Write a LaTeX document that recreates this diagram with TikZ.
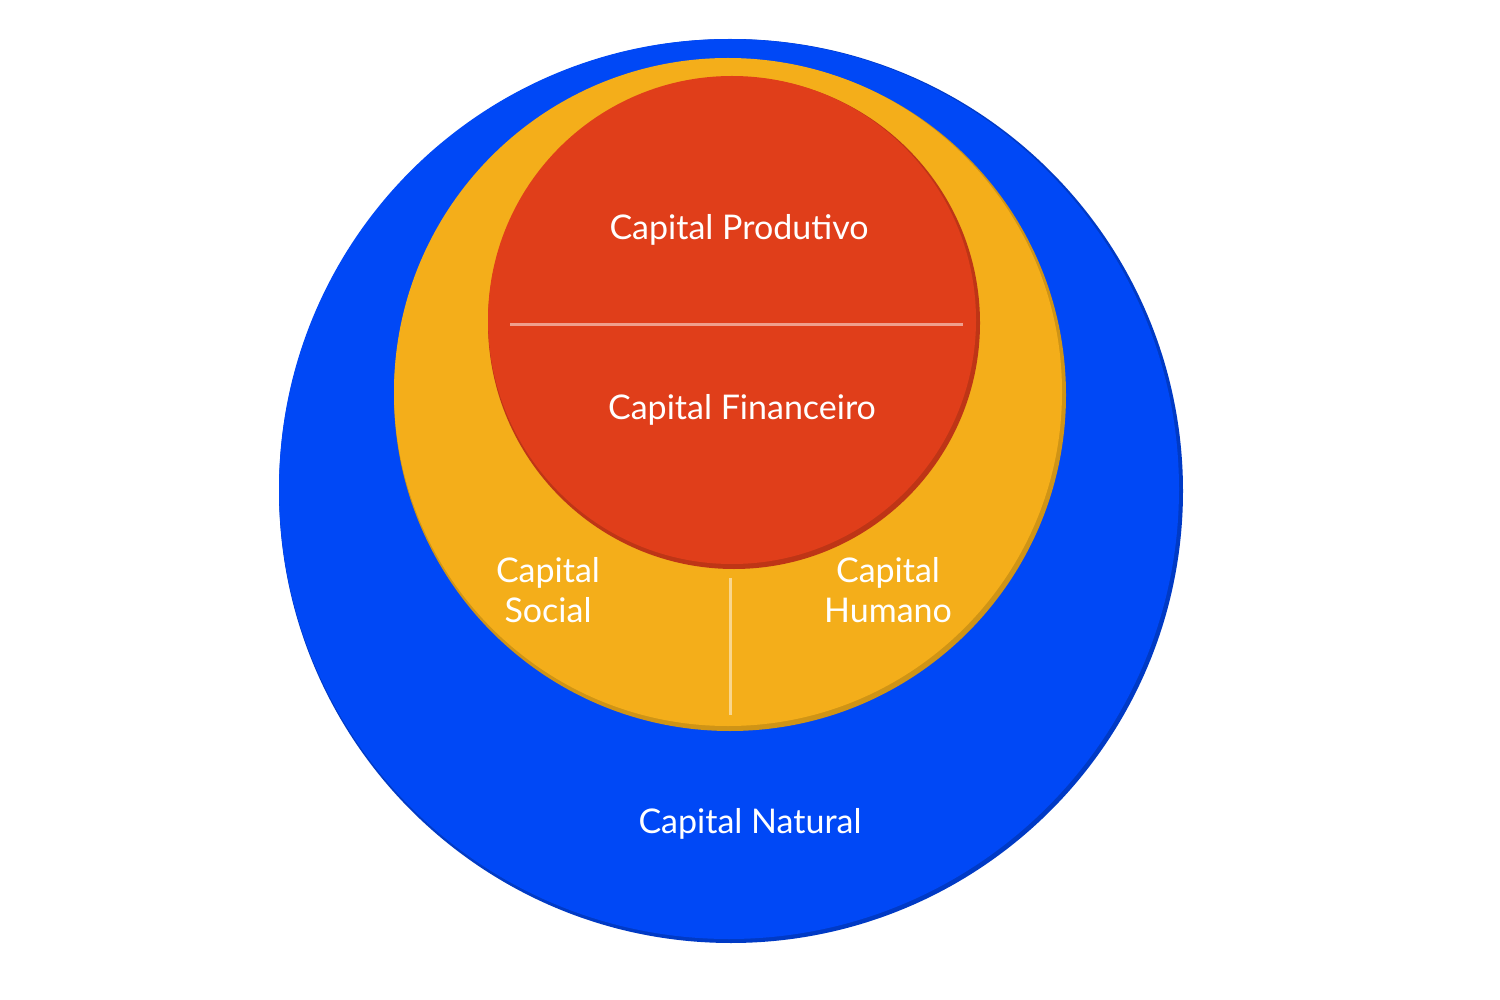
\documentclass[tikz,border=0pt]{standalone}
\usepackage{fontspec}
\setmainfont{Lato}
\definecolor{cblue}{HTML}{0048F6}
\definecolor{cyel}{HTML}{F4AE1A}
\definecolor{cred}{HTML}{E03E1A}
\begin{document}
\begin{tikzpicture}[x=0.5pt,y=-0.5pt,
  lbl/.style={text=white,font=\fontsize{17}{20}\selectfont,align=center}]
\useasboundingbox[fill=white] (0,0) rectangle (1500,1000);
\fill[cblue!80!black] (731,491) circle[radius=452];
\fill[cblue] (729,489) circle[radius=450];
\fill[cyel!85!black] (730,395) circle[radius=336];
\fill[cyel] (728,392) circle[radius=334];
\fill[cred!85!black] (734,323) circle[radius=246];
\fill[cred] (732,320) circle[radius=244];
\coordinate (l1) at (510,325); \coordinate (l2) at (963,325);
\draw[line width=1.5pt,cred!50!white] (l1) -- (l2);
\coordinate (v1) at (730,578); \coordinate (v2) at (730,715);
\draw[line width=1.5pt,cyel!50!white] (v1) -- (v2);
\node[lbl] (p) at (739,230) {Capital Produtivo};
\node[lbl] (f) at (742,410) {Capital Financeiro};
\node[lbl] (s) at (548,590) {Capital\\Social};
\node[lbl] (h) at (888,590) {Capital\\Humano};
\node[lbl] (n) at (750,824) {Capital Natural};
\end{tikzpicture}
\end{document}
